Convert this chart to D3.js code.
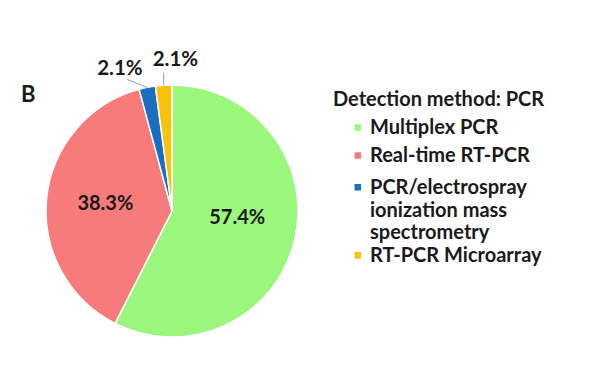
<!DOCTYPE html>
<html>
<head>
<meta charset="utf-8">
<script src="https://cdn.jsdelivr.net/npm/d3@7"></script>
<style>
  body { margin: 0; background: #fff; }
  text { font-family: Lato, "Open Sans", sans-serif; font-weight: 700; fill: #1a1a1a; }
</style>
</head>
<body>
<script>
// chart data
var categories = ["Multiplex PCR", "Real-time RT-PCR", "PCR/electrospray ionization mass spectrometry", "RT-PCR Microarray"];
var legendLines = [["Multiplex PCR"], ["Real-time RT-PCR"], ["PCR/electrospray", "ionization mass", "spectrometry"], ["RT-PCR Microarray"]];
var values = [57.4, 38.3, 2.1, 2.1];
var colors = ["#9af77c", "#f87b7b", "#1a6ec2", "#f8c20f"];
var legendTitle = "Detection method: PCR";
var panelLabel = "B";

var width = 600, height = 390;
var cx = 172, cy = 211, radius = 126;

var svg = d3.select("body").append("svg")
    .attr("width", width)
    .attr("height", height);

var data = values.map(function (v, i) {
    return { name: categories[i], value: v, color: colors[i], idx: i };
});

var pie = d3.pie()
    .sort(null)
    .value(function (d) { return d.value; });

var arc = d3.arc().innerRadius(0).outerRadius(radius);

var g = svg.append("g")
    .attr("transform", "translate(" + cx + "," + cy + ")");

var arcs = pie(data);

// slices
g.selectAll("path.slice")
    .data(arcs)
    .enter().append("path")
    .attr("class", "slice")
    .attr("d", arc)
    .attr("fill", function (d) { return d.data.color; })
    .attr("stroke", "#fff")
    .attr("stroke-width", 1.5);

// big slices: label inside
var inside = arcs.filter(function (d) { return d.data.value > 10; });
g.selectAll("text.inner")
    .data(inside)
    .enter().append("text")
    .attr("class", "inner")
    .attr("x", function (d) {
        var a = (d.startAngle + d.endAngle) / 2;
        return Math.sin(a) * 67;
    })
    .attr("y", function (d) {
        var a = (d.startAngle + d.endAngle) / 2;
        return -Math.cos(a) * 67;
    })
    .attr("dy", function (d) { return d.index === 0 ? "-0.15em" : "0.3em"; })
    .attr("text-anchor", "middle")
    .style("font-size", "20px")
    .text(function (d) { return d.data.value.toFixed(1) + "%"; });

// small slices: label outside with leader line
var outside = arcs.filter(function (d) { return d.data.value <= 10; });
// leader end offsets from the slice edge, and text offset from the leader end
var leadDx = [-20, 0], leadDy = [-8, -12];
var textDx = [-30, -11], textDy = [-4, -7];
outside.forEach(function (d, i) {
    var a = (d.startAngle + d.endAngle) / 2;
    var x0 = Math.sin(a) * radius, y0 = -Math.cos(a) * radius;
    var x1 = x0 + leadDx[i], y1 = y0 + leadDy[i];
    g.append("line")
        .attr("x1", x0).attr("y1", y0)
        .attr("x2", x1).attr("y2", y1)
        .attr("stroke", "#999")
        .attr("stroke-width", 1);
    g.append("text")
        .attr("x", x1 + textDx[i])
        .attr("y", y1 + textDy[i])
        .style("font-size", "20.5px")
        .text(d.data.value.toFixed(1) + "%");
});

// panel letter
svg.append("text")
    .attr("x", 21)
    .attr("y", 102)
    .style("font-size", "22px")
    .text(panelLabel);

// legend
var legend = svg.append("g").attr("transform", "translate(333,0)");
legend.append("text")
    .attr("x", 0)
    .attr("y", 105.5)
    .style("font-size", "20px")
    .text(legendTitle);

var rowY = [134.3, 162.3, 194, 262];
var items = legend.selectAll("g.item")
    .data(data)
    .enter().append("g")
    .attr("class", "item")
    .attr("transform", function (d, i) { return "translate(0," + rowY[i] + ")"; });

items.append("rect")
    .attr("x", 21.5)
    .attr("y", -10)
    .attr("width", 6.5)
    .attr("height", 6.5)
    .attr("fill", function (d) { return d.color; });

items.each(function (d, i) {
    var t = d3.select(this);
    legendLines[i].forEach(function (line, j) {
        t.append("text")
            .attr("x", 37)
            .attr("y", j * 22.5)
            .style("font-size", "20px")
            .text(line);
    });
});
</script>
</body>
</html>
